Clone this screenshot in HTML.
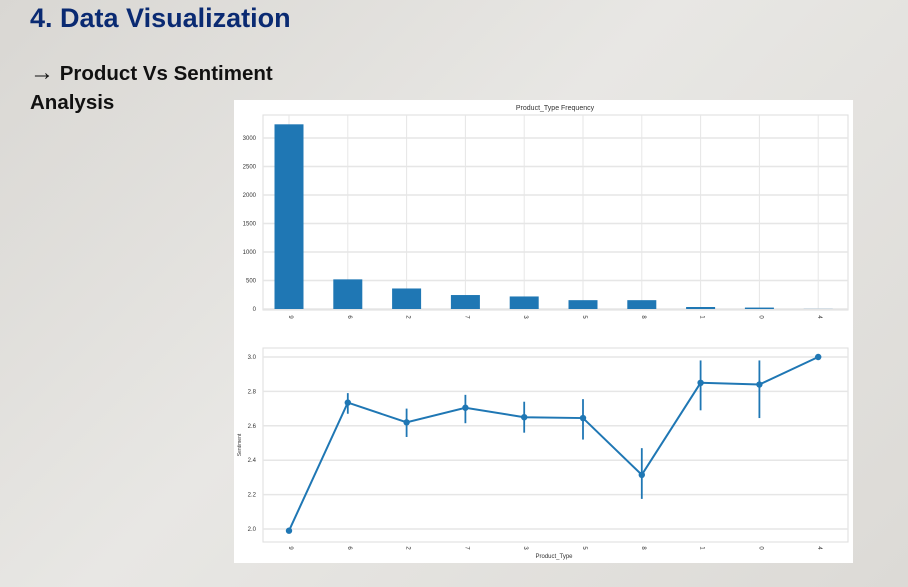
<!DOCTYPE html>
<html><head><meta charset="utf-8"><style>
body{margin:0;width:908px;height:587px;overflow:hidden;background:linear-gradient(135deg,#d9d7d3 0%,#e8e7e4 45%,#dcdad6 100%);font-family:"Liberation Sans",sans-serif;position:relative}
#t{position:absolute;left:30px;top:3px;font-size:27px;font-weight:bold;color:#0a2a72}
#s{position:absolute;left:30px;top:58px;font-size:20.5px;font-weight:bold;color:#111;line-height:29px}
#p{position:absolute;left:234px;top:100px;width:619px;height:463px;background:#fff}
</style></head><body>
<div id="t">4. Data Visualization</div>
<div id="s"><span style="font-size:24px">&#8594;</span> Product Vs Sentiment<br>Analysis</div>
<div id="p">
<svg id="svg" width="619" height="463" xmlns="http://www.w3.org/2000/svg" font-family="Liberation Sans, sans-serif"></svg>
</div>
<script>
const categories=['9','6','2','7','3','5','8','1','0','4'];
const counts=[3240,520,360,245,220,155,155,35,25,2];
const countTicks=[0,500,1000,1500,2000,2500,3000];
const sentiment=[1.99,2.735,2.62,2.705,2.65,2.645,2.315,2.85,2.84,3.0];
const errLow=[1.98,2.67,2.535,2.615,2.56,2.52,2.175,2.69,2.645,3.0];
const errHigh=[2.0,2.79,2.70,2.78,2.74,2.755,2.47,2.98,2.98,3.0];
const sentTicks=[2.0,2.2,2.4,2.6,2.8,3.0];
const svg=document.getElementById('svg');
const NS='http://www.w3.org/2000/svg';
function mk(tag,attrs,parent){const e=document.createElementNS(NS,tag);for(const k in attrs)e.setAttribute(k,attrs[k]);(parent||svg).appendChild(e);return e;}
const ox=234,oy=100;
const xC=i=>289-ox+i*58.8;
const y1=v=>309-oy-v*(171/3000);
let g=mk('g',{});


let fr=mk('rect',{x:29,y:15,width:585,height:195,fill:'none',stroke:'#ddd'},g);


categories.forEach((c,i)=>{let l=mk('line',{x1:xC(i),x2:xC(i),y1:15,y2:210,stroke:'#e6e6e6'},g);

});
countTicks.forEach(t=>{let l=mk('line',{x1:29,x2:614,y1:y1(t),y2:y1(t),stroke:'#e6e6e6','stroke-width':1.5},g);


let tx=mk('text',{x:22,y:y1(t)+2,'font-size':6,'text-anchor':'end',fill:'#333'},g);tx.textContent=t;

});
categories.forEach((c,i)=>{let r=mk('rect',{x:xC(i)-14.5,y:y1(counts[i]),width:29,height:y1(0)-y1(counts[i]),fill:'#1f77b4'},g);


let tx=mk('text',{x:xC(i),y:217,'font-size':6,'text-anchor':'middle',fill:'#333',transform:`rotate(90 ${xC(i)} 217)`},g);tx.textContent=c;

});
let tt=mk('text',{x:321,y:10,'font-size':7,'text-anchor':'middle',fill:'#333'},g);tt.textContent='Product_Type Frequency';


const y2=v=>529-oy-(v-2)*172;
let g2=mk('g',{});


let fr2=mk('rect',{x:29,y:248,width:585,height:194,fill:'none',stroke:'#ddd'},g2);


sentTicks.forEach(t=>{let l=mk('line',{x1:29,x2:614,y1:y2(t),y2:y2(t),stroke:'#e6e6e6','stroke-width':1.5},g2);


let tx=mk('text',{x:22,y:y2(t)+2,'font-size':6,'text-anchor':'end',fill:'#333'},g2);tx.textContent=t.toFixed(1);

});
let pts=sentiment.map((v,i)=>xC(i)+','+y2(v)).join(' ');
let pl=mk('polyline',{points:pts,fill:'none',stroke:'#1f77b4','stroke-width':2},g2);


categories.forEach((c,i)=>{let e=mk('line',{x1:xC(i),x2:xC(i),y1:y2(errLow[i]),y2:y2(errHigh[i]),stroke:'#1f77b4','stroke-width':1.8},g2);


let p=mk('circle',{cx:xC(i),cy:y2(sentiment[i]),r:3.2,fill:'#1f77b4'},g2);


let tx=mk('text',{x:xC(i),y:448,'font-size':6,'text-anchor':'middle',fill:'#333',transform:`rotate(90 ${xC(i)} 448)`},g2);tx.textContent=c;

});
let xl=mk('text',{x:320,y:458,'font-size':6,'text-anchor':'middle',fill:'#333'},g2);xl.textContent='Product_Type';


let yl=mk('text',{x:7,y:345,'font-size':5,'text-anchor':'middle',fill:'#333',transform:'rotate(-90 7 345)'},g2);yl.textContent='Sentiment';


</script>
</body></html>
